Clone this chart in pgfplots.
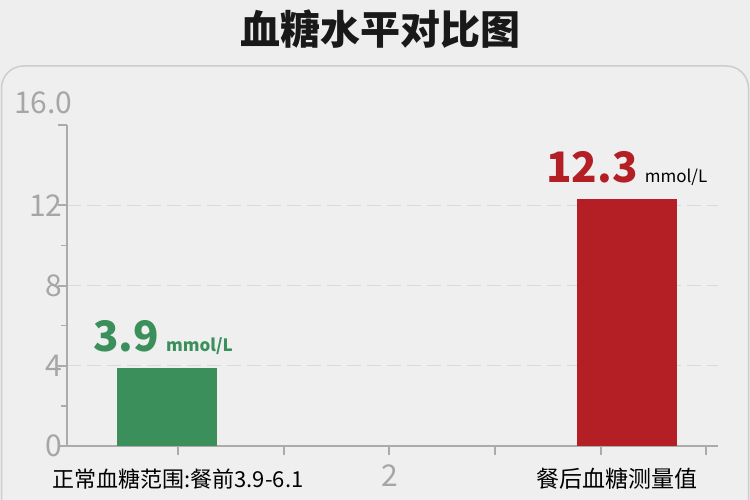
\documentclass[border=0pt]{standalone}
\usepackage{pgfplots}
\pgfplotsset{compat=1.18}
\usepackage{fontspec}
\setmainfont{Noto Sans CJK SC}
\definecolor{bgc}{HTML}{EEEEEE}
\definecolor{panelc}{HTML}{EFEFEF}
\definecolor{borderc}{HTML}{CDCDCD}
\definecolor{axisc}{HTML}{ABABAB}
\definecolor{gridc}{HTML}{D9D9D9}
\definecolor{tickc}{HTML}{A6A6A6}
\definecolor{barg}{HTML}{3A8F5A}
\definecolor{barr}{HTML}{B31F24}
\begin{document}
\begin{tikzpicture}[x=1pt,y=1pt]
\useasboundingbox (0,0) rectangle (750,-500);
\fill[bgc] (0,0) rectangle (750,-500);
\begin{scope}
\clip (0,0) rectangle (750,-500);
\draw[borderc, line width=1.5pt, rounded corners=22pt, fill=panelc] (1.5,-530) -- (1.5,-66) -- (748.5,-66) -- (748.5,-530);
\end{scope}
\node[font=\fontsize{40}{48}\selectfont\bfseries, text=black!90] at (380,-29) {血糖水平对比图};
\begin{axis}[
  at={(67pt,-446pt)}, anchor=south west,
  scale only axis, width=651pt, height=321pt,
  xmin=-1.05, xmax=5.11, ymin=0, ymax=16,
  axis lines=left, axis line style={axisc, line width=2.5pt, -},
  /pgf/number format/assume math mode=true,
  xtick={0,1,2,3,4,5}, xticklabels={,,2,,,},
  ytick={0,4,8,12}, yticklabels={0,4,8,12},
  extra y ticks={16}, extra y tick labels={16.0},
  extra y tick style={grid=none, tick label style={yshift=22pt, xshift=10pt, font=\fontsize{26}{30}\selectfont}},
  tick align=outside, major tick length=9pt,
  tick style={axisc, line width=2pt},
  minor y tick num=1, minor tick length=6pt,
  minor tick style={axisc, line width=1.5pt},
  ymajorgrids, major grid style={gridc, dashed, dash pattern=on 14pt off 6pt, line width=1pt},
  yticklabel style={text=tickc, font=\fontsize{30}{34}\selectfont, xshift=8pt},
  xticklabel style={text=tickc, font=\fontsize{30}{34}\selectfont, yshift=-6pt},
  clip=false,
]
\addplot[ybar, bar width=100pt, bar shift=0pt, fill=barg, draw=none] coordinates {(-0.104,3.9)};
\addplot[ybar, bar width=100pt, bar shift=0pt, fill=barr, draw=none] coordinates {(4.247,12.3)};
\node[anchor=base, yshift=16pt, xshift=-4pt] at (axis cs:-0.104,3.9) {\fontsize{42}{48}\selectfont\bfseries\color{barg}3.9\,\fontsize{17}{20}\selectfont mmol/L};
\node[anchor=base, yshift=17pt] at (axis cs:4.247,12.3) {\fontsize{42}{48}\selectfont\bfseries\color{barr}12.3\,\fontsize{17}{20}\selectfont\mdseries\color{black}mmol/L};
\node[anchor=center, font=\fontsize{22}{26}\selectfont, text=black] at ([yshift=-33pt]axis cs:0,0) {正常血糖范围:餐前3.9-6.1};
\node[anchor=center, font=\fontsize{23}{26}\selectfont, text=black] at ([yshift=-33pt]axis cs:4.15,0) {餐后血糖测量值};
\end{axis}
\end{tikzpicture}
\end{document}
